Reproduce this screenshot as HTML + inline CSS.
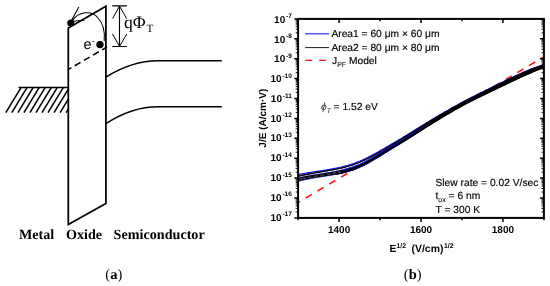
<!DOCTYPE html>
<html><head><meta charset="utf-8"><title>Figure</title>
<style>
html,body{margin:0;padding:0;background:#fff;}
svg{display:block;}
text{text-rendering:geometricPrecision;font-family:"Liberation Sans",Arial,sans-serif;fill:#000;}
.b{font-weight:bold;font-size:10px;}
.r{font-size:10.25px;stroke:#000;stroke-width:0.15px;}
.s{font-family:"Liberation Serif","Times New Roman",serif;}
</style></head><body>
<svg width="550" height="286" viewBox="0 0 550 286">
<rect width="550" height="286" fill="#fff"/>
<!-- (a) band diagram -->
<g fill="none" stroke="#000" stroke-width="1.75" stroke-linejoin="miter">
<path d="M68.3,28 L105.9,6.3 L105.9,203.6 L68.3,224.5 Z"/>
<path d="M106.9,47.0 L68.5,69.4" stroke-dasharray="6.7 3.85" stroke-dashoffset="1.14" stroke-width="1.5"/>
<path d="M18.5,87.6 H68.5" stroke-width="1.5"/>
<path d="M105.9,77.1 Q131.9,60.7 158,60.7 H221.8" stroke-width="1.5"/>
<path d="M105.9,123.7 Q131.9,106.8 158,106.8 H221.8" stroke-width="1.5"/>
<path d="M112.2,5.9 H126.8 M112.2,46.5 H126.8 M119.5,5.9 V46.5" stroke-width="1.1"/>
<path d="M112.6,18.5 L119.5,6.2 L126.6,18.5 M112.4,34 L119.5,46.3 L126.8,34" stroke-width="1"/>
<path d="M72,21.5 C78,11 92,10 98,18 C103.5,24 105,33 104.2,41" stroke-width="1.05"/>
<path d="M78.8,7 L71,21.5 L84.3,20.2" stroke-width="1.05"/>
</g>
<path d="M21.0,87.7L5.8,112.6 M27.0,87.7L11.8,112.6 M33.1,87.7L17.9,112.6 M39.1,87.7L23.9,112.6 M45.1,87.7L29.9,112.6 M51.2,87.7L36.0,112.6 M57.2,87.7L42.0,112.6 M63.2,87.7L48.0,112.6 M68.5,88.9L54.0,112.6 M68.5,98.8L60.1,112.6 M68.5,108.7L66.1,112.6" stroke="#000" stroke-width="1.55" fill="none"/>
<circle cx="70.8" cy="23" r="3.6" fill="#000"/>
<circle cx="100" cy="44.6" r="3.7" fill="#000"/>
<text x="83.6" y="49.2" font-size="14.5">e<tspan dy="-5.5" font-size="9">-</tspan></text>
<text class="s" x="124" y="28.2" font-size="17.6">qΦ<tspan dy="4" dx="0.8" font-size="11.2">T</tspan></text>
<text class="s" x="19" y="239.4" font-size="14.1" font-weight="bold">Metal</text>
<text class="s" x="66" y="239.4" font-size="14.1" font-weight="bold">Oxide</text>
<text class="s" x="113.6" y="239.4" font-size="14.15" font-weight="bold">Semiconductor</text>
<text class="s" x="105.3" y="279.2" font-size="14.5">(<tspan font-weight="bold">a</tspan>)</text>
<text class="s" x="403.8" y="279.2" font-size="14.5">(<tspan font-weight="bold">b</tspan>)</text>
<!-- (b) plot -->
<path d="M298.5,202.3 L543.5,57.1" stroke="#ff1414" stroke-width="1.6" stroke-dasharray="7.1 6.56" stroke-dashoffset="5.2" fill="none"/>
<path d="M298.5,174.52 L299.4,174.33 L300.4,174.14 L301.3,173.96 L302.3,173.78 L303.2,173.61 L304.2,173.44 L305.1,173.27 L306.1,173.11 L307.0,172.95 L308.0,172.79 L308.9,172.64 L309.9,172.48 L310.8,172.33 L311.7,172.18 L312.7,172.03 L313.6,171.89 L314.6,171.74 L315.5,171.60 L316.5,171.45 L317.4,171.31 L318.4,171.16 L319.3,171.02 L320.3,170.87 L321.2,170.73 L322.1,170.58 L323.1,170.43 L324.0,170.28 L325.0,170.13 L325.9,169.98 L326.9,169.82 L327.8,169.66 L328.8,169.50 L329.7,169.34 L330.7,169.17 L331.6,169.00 L332.6,168.82 L333.5,168.65 L334.4,168.46 L335.4,168.27 L336.3,168.08 L337.3,167.89 L338.2,167.68 L339.2,167.47 L340.1,167.26 L341.1,167.04 L342.0,166.82 L343.0,166.58 L343.9,166.34 L344.9,166.10 L345.8,165.85 L346.7,165.58 L347.7,165.32 L348.6,165.04 L349.6,164.76 L350.5,164.46 L351.5,164.16 L352.4,163.85 L353.4,163.53 L354.3,163.20 L355.3,162.86 L356.2,162.51 L357.1,162.15 L358.1,161.79 L359.0,161.41 L360.0,161.01 L360.9,160.61 L361.9,160.20 L362.8,159.78 L363.8,159.35 L364.7,158.90 L365.7,158.45 L366.6,158.00 L367.6,157.53 L368.5,157.05 L369.4,156.57 L370.4,156.08 L371.3,155.59 L372.3,155.09 L373.2,154.58 L374.2,154.06 L375.1,153.55 L376.1,153.02 L377.0,152.50 L378.0,151.96 L378.9,151.43 L379.9,150.89 L380.8,150.35 L381.7,149.81 L382.7,149.26 L383.6,148.72 L384.6,148.17 L385.5,147.62 L386.5,147.07 L387.4,146.52 L388.4,145.97 L389.3,145.42 L390.3,144.87 L391.2,144.33 L392.1,143.77 L393.1,143.22 L394.0,142.67 L395.0,142.12 L395.9,141.57 L396.9,141.01 L397.8,140.45 L398.8,139.90 L399.7,139.34 L400.7,138.78 L401.6,138.21 L402.6,137.65 L403.5,137.08 L404.4,136.51 L405.4,135.94 L406.3,135.36 L407.3,134.78 L408.2,134.20 L409.2,133.62 L410.1,133.04 L411.1,132.45 L412.0,131.87 L413.0,131.28 L413.9,130.69 L414.9,130.11 L415.8,129.52 L416.7,128.93 L417.7,128.34 L418.6,127.75 L419.6,127.16 L420.5,126.58 L421.5,125.99 L422.4,125.41 L423.4,124.82 L424.3,124.24 L425.3,123.66 L426.2,123.08 L427.1,122.50 L428.1,121.93 L429.0,121.35 L430.0,120.78 L430.9,120.21 L431.9,119.64 L432.8,119.07 L433.8,118.50 L434.7,117.94 L435.7,117.37 L436.6,116.81 L437.6,116.25 L438.5,115.69 L439.4,115.14 L440.4,114.58 L441.3,114.03 L442.3,113.48 L443.2,112.93 L444.2,112.38 L445.1,111.83 L446.1,111.29 L447.0,110.75 L448.0,110.21 L448.9,109.67 L449.9,109.13 L450.8,108.60 L451.7,108.06 L452.7,107.53 L453.6,107.01 L454.6,106.48 L455.5,105.96 L456.5,105.43 L457.4,104.91 L458.4,104.40 L459.3,103.88 L460.3,103.37 L461.2,102.86 L462.1,102.35 L463.1,101.84 L464.0,101.34 L465.0,100.84 L465.9,100.34 L466.9,99.84 L467.8,99.35 L468.8,98.85 L469.7,98.36 L470.7,97.88 L471.6,97.39 L472.6,96.91 L473.5,96.43 L474.4,95.95 L475.4,95.48 L476.3,95.00 L477.3,94.53 L478.2,94.06 L479.2,93.59 L480.1,93.12 L481.1,92.66 L482.0,92.19 L483.0,91.73 L483.9,91.26 L484.9,90.80 L485.8,90.33 L486.7,89.87 L487.7,89.41 L488.6,88.94 L489.6,88.48 L490.5,88.02 L491.5,87.55 L492.4,87.08 L493.4,86.62 L494.3,86.15 L495.3,85.68 L496.2,85.21 L497.1,84.75 L498.1,84.28 L499.0,83.81 L500.0,83.34 L500.9,82.87 L501.9,82.40 L502.8,81.94 L503.8,81.47 L504.7,81.01 L505.7,80.54 L506.6,80.08 L507.6,79.62 L508.5,79.16 L509.4,78.71 L510.4,78.25 L511.3,77.80 L512.3,77.35 L513.2,76.90 L514.2,76.45 L515.1,76.01 L516.1,75.57 L517.0,75.13 L518.0,74.70 L518.9,74.27 L519.9,73.84 L520.8,73.42 L521.7,73.00 L522.7,72.58 L523.6,72.17 L524.6,71.76 L525.5,71.36 L526.5,70.96 L527.4,70.57 L528.4,70.18 L529.3,69.80 L530.3,69.42 L531.2,69.05 L532.1,68.68 L533.1,68.32 L534.0,67.96 L535.0,67.62 L535.9,67.27 L536.9,66.94 L537.8,66.60 L538.8,66.28 L539.7,65.96 L540.7,65.65 L541.6,65.35 L542.6,65.06 L543.5,64.77" fill="none" stroke="#1414ff" stroke-width="1.2"/>
<path d="M298.5,181.36 L299.4,181.09 L300.4,180.83 L301.3,180.59 L302.3,180.35 L303.2,180.11 L304.2,179.89 L305.1,179.67 L306.1,179.47 L307.0,179.26 L308.0,179.07 L308.9,178.88 L309.9,178.69 L310.8,178.51 L311.7,178.34 L312.7,178.17 L313.6,178.00 L314.6,177.84 L315.5,177.68 L316.5,177.53 L317.4,177.38 L318.4,177.23 L319.3,177.08 L320.3,176.93 L321.2,176.79 L322.1,176.64 L323.1,176.50 L324.0,176.35 L325.0,176.21 L325.9,176.06 L326.9,175.91 L327.8,175.77 L328.8,175.62 L329.7,175.46 L330.7,175.31 L331.6,175.15 L332.6,174.98 L333.5,174.81 L334.4,174.64 L335.4,174.46 L336.3,174.27 L337.3,174.08 L338.2,173.87 L339.2,173.67 L340.1,173.45 L341.1,173.22 L342.0,172.99 L343.0,172.75 L343.9,172.50 L344.9,172.24 L345.8,171.97 L346.7,171.69 L347.7,171.41 L348.6,171.11 L349.6,170.80 L350.5,170.48 L351.5,170.14 L352.4,169.80 L353.4,169.44 L354.3,169.08 L355.3,168.69 L356.2,168.30 L357.1,167.89 L358.1,167.47 L359.0,167.04 L360.0,166.59 L360.9,166.13 L361.9,165.66 L362.8,165.17 L363.8,164.68 L364.7,164.17 L365.7,163.65 L366.6,163.12 L367.6,162.58 L368.5,162.03 L369.4,161.48 L370.4,160.92 L371.3,160.35 L372.3,159.78 L373.2,159.20 L374.2,158.61 L375.1,158.02 L376.1,157.43 L377.0,156.84 L378.0,156.24 L378.9,155.64 L379.9,155.04 L380.8,154.44 L381.7,153.84 L382.7,153.24 L383.6,152.63 L384.6,152.04 L385.5,151.44 L386.5,150.84 L387.4,150.25 L388.4,149.66 L389.3,149.08 L390.3,148.49 L391.2,147.91 L392.1,147.34 L393.1,146.76 L394.0,146.18 L395.0,145.61 L395.9,145.04 L396.9,144.47 L397.8,143.90 L398.8,143.33 L399.7,142.76 L400.7,142.18 L401.6,141.61 L402.6,141.04 L403.5,140.46 L404.4,139.88 L405.4,139.30 L406.3,138.72 L407.3,138.13 L408.2,137.54 L409.2,136.95 L410.1,136.35 L411.1,135.76 L412.0,135.16 L413.0,134.56 L413.9,133.97 L414.9,133.37 L415.8,132.77 L416.7,132.17 L417.7,131.56 L418.6,130.96 L419.6,130.36 L420.5,129.76 L421.5,129.17 L422.4,128.57 L423.4,127.97 L424.3,127.38 L425.3,126.78 L426.2,126.19 L427.1,125.60 L428.1,125.00 L429.0,124.42 L430.0,123.83 L430.9,123.24 L431.9,122.66 L432.8,122.07 L433.8,121.49 L434.7,120.91 L435.7,120.33 L436.6,119.76 L437.6,119.18 L438.5,118.61 L439.4,118.04 L440.4,117.47 L441.3,116.90 L442.3,116.33 L443.2,115.77 L444.2,115.21 L445.1,114.65 L446.1,114.09 L447.0,113.54 L448.0,112.98 L448.9,112.43 L449.9,111.88 L450.8,111.34 L451.7,110.80 L452.7,110.25 L453.6,109.72 L454.6,109.18 L455.5,108.65 L456.5,108.11 L457.4,107.59 L458.4,107.06 L459.3,106.54 L460.3,106.02 L461.2,105.50 L462.1,104.98 L463.1,104.47 L464.0,103.96 L465.0,103.46 L465.9,102.96 L466.9,102.46 L467.8,101.96 L468.8,101.47 L469.7,100.98 L470.7,100.49 L471.6,100.00 L472.6,99.52 L473.5,99.05 L474.4,98.57 L475.4,98.10 L476.3,97.63 L477.3,97.17 L478.2,96.70 L479.2,96.24 L480.1,95.78 L481.1,95.32 L482.0,94.86 L483.0,94.40 L483.9,93.95 L484.9,93.49 L485.8,93.04 L486.7,92.59 L487.7,92.13 L488.6,91.68 L489.6,91.22 L490.5,90.77 L491.5,90.31 L492.4,89.86 L493.4,89.40 L494.3,88.95 L495.3,88.49 L496.2,88.03 L497.1,87.57 L498.1,87.11 L499.0,86.65 L500.0,86.19 L500.9,85.73 L501.9,85.28 L502.8,84.82 L503.8,84.36 L504.7,83.90 L505.7,83.44 L506.6,82.99 L507.6,82.53 L508.5,82.08 L509.4,81.62 L510.4,81.17 L511.3,80.72 L512.3,80.27 L513.2,79.82 L514.2,79.37 L515.1,78.93 L516.1,78.48 L517.0,78.04 L518.0,77.60 L518.9,77.17 L519.9,76.73 L520.8,76.30 L521.7,75.87 L522.7,75.44 L523.6,75.01 L524.6,74.59 L525.5,74.17 L526.5,73.76 L527.4,73.34 L528.4,72.93 L529.3,72.52 L530.3,72.12 L531.2,71.72 L532.1,71.33 L533.1,70.93 L534.0,70.54 L535.0,70.16 L535.9,69.78 L536.9,69.40 L537.8,69.03 L538.8,68.66 L539.7,68.30 L540.7,67.94 L541.6,67.59 L542.6,67.24 L543.5,66.90" fill="none" stroke="#1414ff" stroke-width="0.95"/>
<path d="M298.5,177.94 L299.4,177.71 L300.4,177.49 L301.3,177.27 L302.3,177.06 L303.2,176.86 L304.2,176.66 L305.1,176.47 L306.1,176.29 L307.0,176.11 L308.0,175.93 L308.9,175.76 L309.9,175.59 L310.8,175.42 L311.7,175.26 L312.7,175.10 L313.6,174.95 L314.6,174.79 L315.5,174.64 L316.5,174.49 L317.4,174.34 L318.4,174.20 L319.3,174.05 L320.3,173.90 L321.2,173.76 L322.1,173.61 L323.1,173.46 L324.0,173.32 L325.0,173.17 L325.9,173.02 L326.9,172.87 L327.8,172.71 L328.8,172.56 L329.7,172.40 L330.7,172.24 L331.6,172.08 L332.6,171.91 L333.5,171.74 L334.4,171.56 L335.4,171.38 L336.3,171.19 L337.3,171.00 L338.2,170.81 L339.2,170.61 L340.1,170.40 L341.1,170.19 L342.0,169.97 L343.0,169.74 L343.9,169.50 L344.9,169.26 L345.8,169.01 L346.7,168.75 L347.7,168.49 L348.6,168.21 L349.6,167.93 L350.5,167.63 L351.5,167.33 L352.4,167.02 L353.4,166.69 L354.3,166.36 L355.3,166.01 L356.2,165.66 L357.1,165.29 L358.1,164.91 L359.0,164.51 L360.0,164.11 L360.9,163.69 L361.9,163.26 L362.8,162.82 L363.8,162.37 L364.7,161.91 L365.7,161.43 L366.6,160.95 L367.6,160.46 L368.5,159.96 L369.4,159.45 L370.4,158.94 L371.3,158.42 L372.3,157.89 L373.2,157.35 L374.2,156.81 L375.1,156.27 L376.1,155.72 L377.0,155.17 L378.0,154.61 L378.9,154.05 L379.9,153.48 L380.8,152.92 L381.7,152.35 L382.7,151.78 L383.6,151.21 L384.6,150.64 L385.5,150.08 L386.5,149.51 L387.4,148.94 L388.4,148.37 L389.3,147.81 L390.3,147.25 L391.2,146.68 L392.1,146.12 L393.1,145.56 L394.0,145.00 L395.0,144.44 L395.9,143.87 L396.9,143.31 L397.8,142.75 L398.8,142.18 L399.7,141.62 L400.7,141.05 L401.6,140.48 L402.6,139.91 L403.5,139.33 L404.4,138.76 L405.4,138.18 L406.3,137.60 L407.3,137.01 L408.2,136.43 L409.2,135.84 L410.1,135.25 L411.1,134.66 L412.0,134.06 L413.0,133.47 L413.9,132.88 L414.9,132.28 L415.8,131.68 L416.7,131.09 L417.7,130.49 L418.6,129.89 L419.6,129.30 L420.5,128.70 L421.5,128.11 L422.4,127.51 L423.4,126.92 L424.3,126.33 L425.3,125.74 L426.2,125.15 L427.1,124.57 L428.1,123.98 L429.0,123.39 L430.0,122.81 L430.9,122.23 L431.9,121.65 L432.8,121.07 L433.8,120.50 L434.7,119.92 L435.7,119.35 L436.6,118.77 L437.6,118.20 L438.5,117.64 L439.4,117.07 L440.4,116.50 L441.3,115.94 L442.3,115.38 L443.2,114.82 L444.2,114.27 L445.1,113.71 L446.1,113.16 L447.0,112.61 L448.0,112.06 L448.9,111.51 L449.9,110.97 L450.8,110.42 L451.7,109.88 L452.7,109.35 L453.6,108.81 L454.6,108.28 L455.5,107.75 L456.5,107.22 L457.4,106.69 L458.4,106.17 L459.3,105.65 L460.3,105.13 L461.2,104.62 L462.1,104.11 L463.1,103.60 L464.0,103.09 L465.0,102.58 L465.9,102.08 L466.9,101.58 L467.8,101.09 L468.8,100.59 L469.7,100.10 L470.7,99.62 L471.6,99.13 L472.6,98.65 L473.5,98.17 L474.4,97.70 L475.4,97.23 L476.3,96.76 L477.3,96.29 L478.2,95.82 L479.2,95.36 L480.1,94.89 L481.1,94.43 L482.0,93.97 L483.0,93.51 L483.9,93.05 L484.9,92.59 L485.8,92.14 L486.7,91.68 L487.7,91.22 L488.6,90.77 L489.6,90.31 L490.5,89.85 L491.5,89.39 L492.4,88.93 L493.4,88.47 L494.3,88.01 L495.3,87.55 L496.2,87.09 L497.1,86.63 L498.1,86.17 L499.0,85.70 L500.0,85.24 L500.9,84.78 L501.9,84.32 L502.8,83.86 L503.8,83.40 L504.7,82.94 L505.7,82.48 L506.6,82.02 L507.6,81.56 L508.5,81.11 L509.4,80.65 L510.4,80.20 L511.3,79.74 L512.3,79.29 L513.2,78.85 L514.2,78.40 L515.1,77.95 L516.1,77.51 L517.0,77.07 L518.0,76.63 L518.9,76.20 L519.9,75.77 L520.8,75.34 L521.7,74.91 L522.7,74.49 L523.6,74.07 L524.6,73.65 L525.5,73.23 L526.5,72.82 L527.4,72.42 L528.4,72.01 L529.3,71.62 L530.3,71.22 L531.2,70.83 L532.1,70.44 L533.1,70.06 L534.0,69.68 L535.0,69.31 L535.9,68.94 L536.9,68.58 L537.8,68.22 L538.8,67.87 L539.7,67.52 L540.7,67.18 L541.6,66.84 L542.6,66.51 L543.5,66.19" fill="none" stroke="#1414ff" stroke-width="0.9"/>
<path d="M298.5,176.36 L299.4,176.15 L300.4,175.94 L301.3,175.74 L302.3,175.53 L303.2,175.33 L304.2,175.13 L305.1,174.94 L306.1,174.74 L307.0,174.55 L308.0,174.36 L308.9,174.17 L309.9,173.98 L310.8,173.80 L311.7,173.62 L312.7,173.44 L313.6,173.26 L314.6,173.08 L315.5,172.91 L316.5,172.73 L317.4,172.56 L318.4,172.39 L319.3,172.22 L320.3,172.05 L321.2,171.88 L322.1,171.71 L323.1,171.54 L324.0,171.37 L325.0,171.21 L325.9,171.04 L326.9,170.87 L327.8,170.71 L328.8,170.54 L329.7,170.38 L330.7,170.21 L331.6,170.04 L332.6,169.87 L333.5,169.70 L334.4,169.52 L335.4,169.33 L336.3,169.14 L337.3,168.95 L338.2,168.75 L339.2,168.54 L340.1,168.33 L341.1,168.11 L342.0,167.89 L343.0,167.66 L343.9,167.42 L344.9,167.17 L345.8,166.92 L346.7,166.66 L347.7,166.39 L348.6,166.12 L349.6,165.83 L350.5,165.54 L351.5,165.24 L352.4,164.93 L353.4,164.61 L354.3,164.27 L355.3,163.93 L356.2,163.58 L357.1,163.22 L358.1,162.85 L359.0,162.46 L360.0,162.07 L360.9,161.66 L361.9,161.24 L362.8,160.81 L363.8,160.37 L364.7,159.92 L365.7,159.47 L366.6,159.00 L367.6,158.53 L368.5,158.04 L369.4,157.55 L370.4,157.05 L371.3,156.55 L372.3,156.04 L373.2,155.52 L374.2,154.99 L375.1,154.46 L376.1,153.92 L377.0,153.38 L378.0,152.84 L378.9,152.29 L379.9,151.74 L380.8,151.18 L381.7,150.62 L382.7,150.06 L383.6,149.50 L384.6,148.94 L385.5,148.37 L386.5,147.81 L387.4,147.25 L388.4,146.68 L389.3,146.12 L390.3,145.56 L391.2,144.99 L392.1,144.43 L393.1,143.86 L394.0,143.30 L395.0,142.73 L395.9,142.17 L396.9,141.60 L397.8,141.03 L398.8,140.46 L399.7,139.89 L400.7,139.31 L401.6,138.74 L402.6,138.16 L403.5,137.58 L404.4,137.00 L405.4,136.41 L406.3,135.83 L407.3,135.24 L408.2,134.65 L409.2,134.06 L410.1,133.46 L411.1,132.87 L412.0,132.27 L413.0,131.67 L413.9,131.08 L414.9,130.48 L415.8,129.88 L416.7,129.28 L417.7,128.69 L418.6,128.09 L419.6,127.50 L420.5,126.90 L421.5,126.31 L422.4,125.72 L423.4,125.13 L424.3,124.54 L425.3,123.96 L426.2,123.38 L427.1,122.80 L428.1,122.22 L429.0,121.64 L430.0,121.06 L430.9,120.49 L431.9,119.92 L432.8,119.35 L433.8,118.78 L434.7,118.22 L435.7,117.65 L436.6,117.09 L437.6,116.52 L438.5,115.96 L439.4,115.41 L440.4,114.85 L441.3,114.30 L442.3,113.74 L443.2,113.19 L444.2,112.64 L445.1,112.09 L446.1,111.55 L447.0,111.01 L448.0,110.46 L448.9,109.93 L449.9,109.39 L450.8,108.85 L451.7,108.32 L452.7,107.79 L453.6,107.26 L454.6,106.73 L455.5,106.21 L456.5,105.68 L457.4,105.16 L458.4,104.64 L459.3,104.13 L460.3,103.61 L461.2,103.10 L462.1,102.59 L463.1,102.09 L464.0,101.58 L465.0,101.08 L465.9,100.58 L466.9,100.08 L467.8,99.59 L468.8,99.10 L469.7,98.61 L470.7,98.12 L471.6,97.64 L472.6,97.15 L473.5,96.67 L474.4,96.20 L475.4,95.72 L476.3,95.25 L477.3,94.78 L478.2,94.31 L479.2,93.84 L480.1,93.37 L481.1,92.91 L482.0,92.44 L483.0,91.98 L483.9,91.51 L484.9,91.05 L485.8,90.59 L486.7,90.12 L487.7,89.66 L488.6,89.20 L489.6,88.74 L490.5,88.27 L491.5,87.81 L492.4,87.34 L493.4,86.88 L494.3,86.41 L495.3,85.94 L496.2,85.48 L497.1,85.01 L498.1,84.54 L499.0,84.07 L500.0,83.61 L500.9,83.14 L501.9,82.67 L502.8,82.21 L503.8,81.74 L504.7,81.28 L505.7,80.82 L506.6,80.35 L507.6,79.89 L508.5,79.43 L509.4,78.98 L510.4,78.52 L511.3,78.07 L512.3,77.62 L513.2,77.17 L514.2,76.72 L515.1,76.28 L516.1,75.84 L517.0,75.40 L518.0,74.97 L518.9,74.54 L519.9,74.11 L520.8,73.69 L521.7,73.27 L522.7,72.85 L523.6,72.44 L524.6,72.03 L525.5,71.62 L526.5,71.22 L527.4,70.83 L528.4,70.44 L529.3,70.05 L530.3,69.67 L531.2,69.30 L532.1,68.93 L533.1,68.56 L534.0,68.21 L535.0,67.85 L535.9,67.51 L536.9,67.17 L537.8,66.83 L538.8,66.50 L539.7,66.18 L540.7,65.87 L541.6,65.56 L542.6,65.26 L543.5,64.97" fill="none" stroke="#000" stroke-width="1.1"/>
<path d="M298.5,175.68 L299.4,175.48 L300.4,175.28 L301.3,175.08 L302.3,174.90 L303.2,174.71 L304.2,174.53 L305.1,174.36 L306.1,174.19 L307.0,174.02 L308.0,173.86 L308.9,173.70 L309.9,173.54 L310.8,173.38 L311.7,173.23 L312.7,173.08 L313.6,172.93 L314.6,172.78 L315.5,172.63 L316.5,172.49 L317.4,172.34 L318.4,172.19 L319.3,172.05 L320.3,171.90 L321.2,171.76 L322.1,171.61 L323.1,171.46 L324.0,171.31 L325.0,171.16 L325.9,171.01 L326.9,170.86 L327.8,170.70 L328.8,170.54 L329.7,170.38 L330.7,170.21 L331.6,170.04 L332.6,169.87 L333.5,169.70 L334.4,169.52 L335.4,169.33 L336.3,169.14 L337.3,168.95 L338.2,168.75 L339.2,168.54 L340.1,168.33 L341.1,168.11 L342.0,167.89 L343.0,167.66 L343.9,167.42 L344.9,167.17 L345.8,166.92 L346.7,166.66 L347.7,166.39 L348.6,166.12 L349.6,165.83 L350.5,165.54 L351.5,165.24 L352.4,164.93 L353.4,164.61 L354.3,164.27 L355.3,163.93 L356.2,163.59 L357.1,163.23 L358.1,162.87 L359.0,162.51 L360.0,162.13 L360.9,161.75 L361.9,161.36 L362.8,160.96 L363.8,160.55 L364.7,160.14 L365.7,159.72 L366.6,159.29 L367.6,158.85 L368.5,158.41 L369.4,157.96 L370.4,157.50 L371.3,157.03 L372.3,156.56 L373.2,156.08 L374.2,155.60 L375.1,155.10 L376.1,154.61 L377.0,154.10 L378.0,153.59 L378.9,153.08 L379.9,152.56 L380.8,152.03 L381.7,151.50 L382.7,150.97 L383.6,150.43 L384.6,149.89 L385.5,149.35 L386.5,148.80 L387.4,148.25 L388.4,147.70 L389.3,147.14 L390.3,146.58 L391.2,146.02 L392.1,145.46 L393.1,144.91 L394.0,144.35 L395.0,143.79 L395.9,143.23 L396.9,142.67 L397.8,142.11 L398.8,141.54 L399.7,140.98 L400.7,140.41 L401.6,139.84 L402.6,139.27 L403.5,138.70 L404.4,138.13 L405.4,137.55 L406.3,136.97 L407.3,136.39 L408.2,135.80 L409.2,135.22 L410.1,134.63 L411.1,134.04 L412.0,133.45 L413.0,132.86 L413.9,132.26 L414.9,131.67 L415.8,131.08 L416.7,130.48 L417.7,129.89 L418.6,129.29 L419.6,128.70 L420.5,128.11 L421.5,127.52 L422.4,126.92 L423.4,126.33 L424.3,125.75 L425.3,125.16 L426.2,124.57 L427.1,123.99 L428.1,123.40 L429.0,122.82 L430.0,122.24 L430.9,121.66 L431.9,121.09 L432.8,120.51 L433.8,119.94 L434.7,119.36 L435.7,118.79 L436.6,118.23 L437.6,117.66 L438.5,117.09 L439.4,116.53 L440.4,115.97 L441.3,115.41 L442.3,114.85 L443.2,114.29 L444.2,113.74 L445.1,113.18 L446.1,112.63 L447.0,112.09 L448.0,111.54 L448.9,110.99 L449.9,110.45 L450.8,109.91 L451.7,109.37 L452.7,108.84 L453.6,108.31 L454.6,107.78 L455.5,107.25 L456.5,106.72 L457.4,106.20 L458.4,105.67 L459.3,105.16 L460.3,104.64 L461.2,104.12 L462.1,103.61 L463.1,103.10 L464.0,102.60 L465.0,102.09 L465.9,101.59 L466.9,101.10 L467.8,100.60 L468.8,100.11 L469.7,99.62 L470.7,99.13 L471.6,98.65 L472.6,98.16 L473.5,97.69 L474.4,97.21 L475.4,96.74 L476.3,96.26 L477.3,95.80 L478.2,95.33 L479.2,94.86 L480.1,94.40 L481.1,93.93 L482.0,93.47 L483.0,93.01 L483.9,92.55 L484.9,92.09 L485.8,91.63 L486.7,91.17 L487.7,90.72 L488.6,90.26 L489.6,89.80 L490.5,89.34 L491.5,88.88 L492.4,88.42 L493.4,87.95 L494.3,87.49 L495.3,87.03 L496.2,86.57 L497.1,86.10 L498.1,85.64 L499.0,85.17 L500.0,84.71 L500.9,84.25 L501.9,83.78 L502.8,83.32 L503.8,82.86 L504.7,82.40 L505.7,81.94 L506.6,81.48 L507.6,81.02 L508.5,80.56 L509.4,80.11 L510.4,79.65 L511.3,79.20 L512.3,78.75 L513.2,78.30 L514.2,77.85 L515.1,77.41 L516.1,76.97 L517.0,76.53 L518.0,76.09 L518.9,75.66 L519.9,75.23 L520.8,74.80 L521.7,74.37 L522.7,73.95 L523.6,73.54 L524.6,73.12 L525.5,72.71 L526.5,72.30 L527.4,71.90 L528.4,71.50 L529.3,71.11 L530.3,70.72 L531.2,70.33 L532.1,69.95 L533.1,69.57 L534.0,69.20 L535.0,68.84 L535.9,68.48 L536.9,68.12 L537.8,67.77 L538.8,67.42 L539.7,67.09 L540.7,66.75 L541.6,66.43 L542.6,66.10 L543.5,65.79" fill="none" stroke="#000" stroke-width="1.0"/>
<path d="M298.5,178.42 L299.4,178.18 L300.4,177.96 L301.3,177.74 L302.3,177.52 L303.2,177.32 L304.2,177.12 L305.1,176.92 L306.1,176.73 L307.0,176.55 L308.0,176.37 L308.9,176.19 L309.9,176.02 L310.8,175.86 L311.7,175.69 L312.7,175.53 L313.6,175.37 L314.6,175.22 L315.5,175.07 L316.5,174.92 L317.4,174.77 L318.4,174.62 L319.3,174.47 L320.3,174.33 L321.2,174.18 L322.1,174.03 L323.1,173.89 L324.0,173.74 L325.0,173.59 L325.9,173.44 L326.9,173.29 L327.8,173.14 L328.8,172.99 L329.7,172.83 L330.7,172.67 L331.6,172.51 L332.6,172.34 L333.5,172.17 L334.4,171.99 L335.4,171.82 L336.3,171.63 L337.3,171.44 L338.2,171.25 L339.2,171.05 L340.1,170.85 L341.1,170.63 L342.0,170.42 L343.0,170.19 L343.9,169.96 L344.9,169.72 L345.8,169.47 L346.7,169.22 L347.7,168.95 L348.6,168.68 L349.6,168.39 L350.5,168.10 L351.5,167.80 L352.4,167.49 L353.4,167.17 L354.3,166.83 L355.3,166.49 L356.2,166.13 L357.1,165.77 L358.1,165.39 L359.0,164.99 L360.0,164.59 L360.9,164.17 L361.9,163.74 L362.8,163.30 L363.8,162.85 L364.7,162.39 L365.7,161.91 L366.6,161.43 L367.6,160.94 L368.5,160.44 L369.4,159.93 L370.4,159.41 L371.3,158.89 L372.3,158.36 L373.2,157.82 L374.2,157.28 L375.1,156.73 L376.1,156.18 L377.0,155.62 L378.0,155.07 L378.9,154.50 L379.9,153.94 L380.8,153.37 L381.7,152.80 L382.7,152.23 L383.6,151.66 L384.6,151.09 L385.5,150.52 L386.5,149.95 L387.4,149.38 L388.4,148.81 L389.3,148.25 L390.3,147.68 L391.2,147.12 L392.1,146.56 L393.1,146.00 L394.0,145.43 L395.0,144.87 L395.9,144.31 L396.9,143.75 L397.8,143.18 L398.8,142.62 L399.7,142.05 L400.7,141.49 L401.6,140.92 L402.6,140.35 L403.5,139.77 L404.4,139.20 L405.4,138.62 L406.3,138.04 L407.3,137.45 L408.2,136.87 L409.2,136.28 L410.1,135.69 L411.1,135.09 L412.0,134.50 L413.0,133.91 L413.9,133.31 L414.9,132.71 L415.8,132.12 L416.7,131.52 L417.7,130.92 L418.6,130.32 L419.6,129.72 L420.5,129.13 L421.5,128.53 L422.4,127.94 L423.4,127.34 L424.3,126.75 L425.3,126.16 L426.2,125.57 L427.1,124.98 L428.1,124.39 L429.0,123.80 L430.0,123.22 L430.9,122.63 L431.9,122.05 L432.8,121.47 L433.8,120.89 L434.7,120.32 L435.7,119.74 L436.6,119.17 L437.6,118.60 L438.5,118.02 L439.4,117.46 L440.4,116.89 L441.3,116.32 L442.3,115.76 L443.2,115.20 L444.2,114.64 L445.1,114.09 L446.1,113.53 L447.0,112.98 L448.0,112.43 L448.9,111.88 L449.9,111.33 L450.8,110.79 L451.7,110.25 L452.7,109.71 L453.6,109.17 L454.6,108.64 L455.5,108.11 L456.5,107.58 L457.4,107.05 L458.4,106.53 L459.3,106.01 L460.3,105.49 L461.2,104.97 L462.1,104.46 L463.1,103.95 L464.0,103.44 L465.0,102.93 L465.9,102.43 L466.9,101.93 L467.8,101.44 L468.8,100.94 L469.7,100.45 L470.7,99.97 L471.6,99.48 L472.6,99.00 L473.5,98.52 L474.4,98.05 L475.4,97.58 L476.3,97.11 L477.3,96.64 L478.2,96.17 L479.2,95.71 L480.1,95.25 L481.1,94.79 L482.0,94.33 L483.0,93.87 L483.9,93.41 L484.9,92.95 L485.8,92.50 L486.7,92.04 L487.7,91.59 L488.6,91.13 L489.6,90.68 L490.5,90.22 L491.5,89.76 L492.4,89.30 L493.4,88.85 L494.3,88.39 L495.3,87.93 L496.2,87.47 L497.1,87.01 L498.1,86.55 L499.0,86.08 L500.0,85.62 L500.9,85.16 L501.9,84.70 L502.8,84.24 L503.8,83.78 L504.7,83.32 L505.7,82.86 L506.6,82.41 L507.6,81.95 L508.5,81.49 L509.4,81.04 L510.4,80.59 L511.3,80.13 L512.3,79.68 L513.2,79.24 L514.2,78.79 L515.1,78.34 L516.1,77.90 L517.0,77.46 L518.0,77.02 L518.9,76.59 L519.9,76.15 L520.8,75.72 L521.7,75.29 L522.7,74.87 L523.6,74.44 L524.6,74.03 L525.5,73.61 L526.5,73.20 L527.4,72.79 L528.4,72.38 L529.3,71.98 L530.3,71.58 L531.2,71.19 L532.1,70.80 L533.1,70.41 L534.0,70.03 L535.0,69.65 L535.9,69.28 L536.9,68.91 L537.8,68.55 L538.8,68.19 L539.7,67.83 L540.7,67.49 L541.6,67.14 L542.6,66.80 L543.5,66.47" fill="none" stroke="#000" stroke-width="1.1"/>
<path d="M298.5,179.44 L299.4,179.20 L300.4,178.96 L301.3,178.73 L302.3,178.51 L303.2,178.29 L304.2,178.08 L305.1,177.88 L306.1,177.69 L307.0,177.49 L308.0,177.31 L308.9,177.13 L309.9,176.95 L310.8,176.78 L311.7,176.62 L312.7,176.45 L313.6,176.29 L314.6,176.13 L315.5,175.98 L316.5,175.83 L317.4,175.68 L318.4,175.53 L319.3,175.38 L320.3,175.24 L321.2,175.09 L322.1,174.94 L323.1,174.80 L324.0,174.65 L325.0,174.51 L325.9,174.36 L326.9,174.21 L327.8,174.06 L328.8,173.90 L329.7,173.75 L330.7,173.59 L331.6,173.43 L332.6,173.26 L333.5,173.10 L334.4,172.93 L335.4,172.75 L336.3,172.57 L337.3,172.39 L338.2,172.20 L339.2,172.00 L340.1,171.80 L341.1,171.59 L342.0,171.38 L343.0,171.16 L343.9,170.93 L344.9,170.69 L345.8,170.45 L346.7,170.19 L347.7,169.93 L348.6,169.66 L349.6,169.39 L350.5,169.10 L351.5,168.80 L352.4,168.49 L353.4,168.17 L354.3,167.84 L355.3,167.49 L356.2,167.14 L357.1,166.77 L358.1,166.40 L359.0,166.00 L360.0,165.60 L360.9,165.18 L361.9,164.75 L362.8,164.31 L363.8,163.85 L364.7,163.39 L365.7,162.91 L366.6,162.42 L367.6,161.93 L368.5,161.42 L369.4,160.91 L370.4,160.39 L371.3,159.86 L372.3,159.33 L373.2,158.79 L374.2,158.24 L375.1,157.69 L376.1,157.13 L377.0,156.57 L378.0,156.00 L378.9,155.44 L379.9,154.86 L380.8,154.29 L381.7,153.72 L382.7,153.14 L383.6,152.57 L384.6,151.99 L385.5,151.42 L386.5,150.85 L387.4,150.28 L388.4,149.71 L389.3,149.14 L390.3,148.57 L391.2,148.01 L392.1,147.44 L393.1,146.88 L394.0,146.32 L395.0,145.76 L395.9,145.19 L396.9,144.63 L397.8,144.07 L398.8,143.50 L399.7,142.94 L400.7,142.37 L401.6,141.80 L402.6,141.23 L403.5,140.65 L404.4,140.08 L405.4,139.50 L406.3,138.92 L407.3,138.33 L408.2,137.74 L409.2,137.15 L410.1,136.56 L411.1,135.97 L412.0,135.37 L413.0,134.78 L413.9,134.18 L414.9,133.58 L415.8,132.98 L416.7,132.38 L417.7,131.78 L418.6,131.18 L419.6,130.58 L420.5,129.98 L421.5,129.38 L422.4,128.78 L423.4,128.18 L424.3,127.58 L425.3,126.99 L426.2,126.39 L427.1,125.80 L428.1,125.21 L429.0,124.62 L430.0,124.03 L430.9,123.44 L431.9,122.86 L432.8,122.27 L433.8,121.69 L434.7,121.11 L435.7,120.53 L436.6,119.95 L437.6,119.38 L438.5,118.80 L439.4,118.23 L440.4,117.66 L441.3,117.09 L442.3,116.52 L443.2,115.96 L444.2,115.40 L445.1,114.84 L446.1,114.28 L447.0,113.72 L448.0,113.17 L448.9,112.62 L449.9,112.07 L450.8,111.52 L451.7,110.98 L452.7,110.44 L453.6,109.90 L454.6,109.36 L455.5,108.82 L456.5,108.29 L457.4,107.76 L458.4,107.24 L459.3,106.71 L460.3,106.19 L461.2,105.68 L462.1,105.16 L463.1,104.65 L464.0,104.14 L465.0,103.63 L465.9,103.13 L466.9,102.63 L467.8,102.13 L468.8,101.64 L469.7,101.15 L470.7,100.66 L471.6,100.18 L472.6,99.70 L473.5,99.22 L474.4,98.75 L475.4,98.28 L476.3,97.81 L477.3,97.34 L478.2,96.88 L479.2,96.41 L480.1,95.95 L481.1,95.50 L482.0,95.04 L483.0,94.58 L483.9,94.13 L484.9,93.67 L485.8,93.22 L486.7,92.77 L487.7,92.31 L488.6,91.86 L489.6,91.41 L490.5,90.95 L491.5,90.50 L492.4,90.04 L493.4,89.59 L494.3,89.13 L495.3,88.68 L496.2,88.22 L497.1,87.76 L498.1,87.30 L499.0,86.84 L500.0,86.38 L500.9,85.93 L501.9,85.47 L502.8,85.01 L503.8,84.55 L504.7,84.09 L505.7,83.64 L506.6,83.18 L507.6,82.73 L508.5,82.27 L509.4,81.82 L510.4,81.36 L511.3,80.91 L512.3,80.46 L513.2,80.01 L514.2,79.57 L515.1,79.12 L516.1,78.68 L517.0,78.24 L518.0,77.80 L518.9,77.36 L519.9,76.92 L520.8,76.49 L521.7,76.06 L522.7,75.63 L523.6,75.20 L524.6,74.78 L525.5,74.36 L526.5,73.94 L527.4,73.53 L528.4,73.11 L529.3,72.71 L530.3,72.30 L531.2,71.90 L532.1,71.50 L533.1,71.11 L534.0,70.72 L535.0,70.33 L535.9,69.95 L536.9,69.57 L537.8,69.19 L538.8,68.82 L539.7,68.46 L540.7,68.10 L541.6,67.74 L542.6,67.39 L543.5,67.04" fill="none" stroke="#000" stroke-width="1.1"/>
<path d="M298.5,180.67 L299.4,180.41 L300.4,180.16 L301.3,179.92 L302.3,179.69 L303.2,179.46 L304.2,179.25 L305.1,179.03 L306.1,178.83 L307.0,178.63 L308.0,178.44 L308.9,178.25 L309.9,178.07 L310.8,177.90 L311.7,177.72 L312.7,177.56 L313.6,177.39 L314.6,177.23 L315.5,177.08 L316.5,176.92 L317.4,176.77 L318.4,176.62 L319.3,176.47 L320.3,176.33 L321.2,176.18 L322.1,176.04 L323.1,175.89 L324.0,175.75 L325.0,175.61 L325.9,175.46 L326.9,175.32 L327.8,175.17 L328.8,175.02 L329.7,174.88 L330.7,174.72 L331.6,174.57 L332.6,174.41 L333.5,174.25 L334.4,174.09 L335.4,173.92 L336.3,173.75 L337.3,173.57 L338.2,173.39 L339.2,173.20 L340.1,173.01 L341.1,172.81 L342.0,172.60 L343.0,172.39 L343.9,172.17 L344.9,171.94 L345.8,171.70 L346.7,171.45 L347.7,171.20 L348.6,170.94 L349.6,170.66 L350.5,170.38 L351.5,170.08 L352.4,169.78 L353.4,169.46 L354.3,169.13 L355.3,168.79 L356.2,168.44 L357.1,168.07 L358.1,167.69 L359.0,167.30 L360.0,166.89 L360.9,166.47 L361.9,166.04 L362.8,165.59 L363.8,165.13 L364.7,164.66 L365.7,164.18 L366.6,163.69 L367.6,163.18 L368.5,162.67 L369.4,162.15 L370.4,161.62 L371.3,161.08 L372.3,160.54 L373.2,159.99 L374.2,159.43 L375.1,158.87 L376.1,158.30 L377.0,157.73 L378.0,157.15 L378.9,156.57 L379.9,155.99 L380.8,155.41 L381.7,154.83 L382.7,154.24 L383.6,153.66 L384.6,153.07 L385.5,152.49 L386.5,151.91 L387.4,151.33 L388.4,150.75 L389.3,150.17 L390.3,149.60 L391.2,149.03 L392.1,148.46 L393.1,147.89 L394.0,147.32 L395.0,146.75 L395.9,146.18 L396.9,145.61 L397.8,145.04 L398.8,144.47 L399.7,143.89 L400.7,143.32 L401.6,142.74 L402.6,142.17 L403.5,141.59 L404.4,141.01 L405.4,140.42 L406.3,139.83 L407.3,139.24 L408.2,138.65 L409.2,138.06 L410.1,137.46 L411.1,136.86 L412.0,136.26 L413.0,135.66 L413.9,135.06 L414.9,134.45 L415.8,133.85 L416.7,133.24 L417.7,132.64 L418.6,132.04 L419.6,131.43 L420.5,130.83 L421.5,130.22 L422.4,129.62 L423.4,129.02 L424.3,128.42 L425.3,127.82 L426.2,127.22 L427.1,126.63 L428.1,126.03 L429.0,125.44 L430.0,124.84 L430.9,124.25 L431.9,123.66 L432.8,123.07 L433.8,122.49 L434.7,121.90 L435.7,121.32 L436.6,120.74 L437.6,120.16 L438.5,119.58 L439.4,119.00 L440.4,118.43 L441.3,117.86 L442.3,117.29 L443.2,116.72 L444.2,116.15 L445.1,115.59 L446.1,115.03 L447.0,114.47 L448.0,113.91 L448.9,113.36 L449.9,112.80 L450.8,112.25 L451.7,111.71 L452.7,111.16 L453.6,110.62 L454.6,110.08 L455.5,109.54 L456.5,109.01 L457.4,108.48 L458.4,107.95 L459.3,107.42 L460.3,106.90 L461.2,106.38 L462.1,105.86 L463.1,105.35 L464.0,104.84 L465.0,104.33 L465.9,103.83 L466.9,103.33 L467.8,102.83 L468.8,102.34 L469.7,101.85 L470.7,101.36 L471.6,100.88 L472.6,100.40 L473.5,99.92 L474.4,99.45 L475.4,98.98 L476.3,98.51 L477.3,98.04 L478.2,97.58 L479.2,97.12 L480.1,96.66 L481.1,96.21 L482.0,95.75 L483.0,95.30 L483.9,94.84 L484.9,94.39 L485.8,93.94 L486.7,93.49 L487.7,93.04 L488.6,92.59 L489.6,92.14 L490.5,91.69 L491.5,91.24 L492.4,90.78 L493.4,90.33 L494.3,89.88 L495.3,89.42 L496.2,88.97 L497.1,88.51 L498.1,88.06 L499.0,87.60 L500.0,87.15 L500.9,86.69 L501.9,86.23 L502.8,85.78 L503.8,85.32 L504.7,84.87 L505.7,84.41 L506.6,83.96 L507.6,83.50 L508.5,83.05 L509.4,82.59 L510.4,82.14 L511.3,81.69 L512.3,81.24 L513.2,80.79 L514.2,80.35 L515.1,79.90 L516.1,79.46 L517.0,79.01 L518.0,78.57 L518.9,78.13 L519.9,77.69 L520.8,77.26 L521.7,76.82 L522.7,76.39 L523.6,75.96 L524.6,75.53 L525.5,75.11 L526.5,74.69 L527.4,74.27 L528.4,73.85 L529.3,73.43 L530.3,73.02 L531.2,72.61 L532.1,72.21 L533.1,71.80 L534.0,71.40 L535.0,71.01 L535.9,70.62 L536.9,70.23 L537.8,69.84 L538.8,69.46 L539.7,69.08 L540.7,68.71 L541.6,68.34 L542.6,67.97 L543.5,67.61" fill="none" stroke="#000" stroke-width="1.15"/>
<path d="M335.4,174.33 L336.3,174.10 L337.3,173.82 L338.2,173.50 L339.2,173.14 L340.1,172.74 L341.1,172.32 L342.0,171.89 L343.0,171.43 L343.9,170.98 L344.9,170.53 L345.8,170.08 L346.7,169.66 L347.7,169.25 L348.6,168.88 L349.6,168.54 L350.5,168.24 L351.5,167.94 L352.4,167.63 L353.4,167.30 L354.3,166.97 L355.3,166.62 L356.2,166.26 L357.1,165.89 L358.1,165.51 L359.0,165.11 L360.0,164.70 L360.9,164.28 L361.9,163.85 L362.8,163.40 L363.8,162.94 L364.7,162.48 L365.7,162.00 L366.6,161.50 L367.6,160.99 L368.5,160.46 L369.4,159.91 L370.4,159.36 L371.3,158.79 L372.3,158.21 L373.2,157.62 L374.2,157.02 L375.1,156.41 L376.1,155.79 L377.0,155.17 L378.0,154.54 L378.9,153.91 L379.9,153.27 L380.8,152.63 L381.7,151.99 L382.7,151.34 L383.6,150.70 L384.6,150.05 L385.5,149.41 L386.5,148.76 L387.4,148.12 L388.4,147.48 L389.3,146.84 L390.3,146.21 L391.2,145.57 L392.1,144.94 L393.1,144.31 L394.0,143.68 L395.0,143.06 L395.9,142.43 L396.9,141.81 L397.8,141.19 L398.8,140.57 L399.7,139.96 L400.7,139.34 L401.6,138.73 L402.6,138.12 L403.5,137.51 L404.4,136.91 L405.4,136.30 L406.3,135.70 L407.3,135.10 L408.2,134.51 L409.2,133.92 L410.1,133.33 L411.1,132.75 L412.0,132.16 L413.0,131.57 L413.9,130.98 L414.9,130.39 L415.8,129.80 L416.7,129.21 L417.7,128.62 L418.6,128.03 L419.6,127.44 L420.5,126.85 L421.5,126.26 L422.4,125.68 L423.4,125.09 L424.3,124.51 L425.3,123.93 L426.2,123.35 L427.1,122.77 L428.1,122.19 L429.0,121.61 L430.0,121.04 L430.9,120.46 L431.9,119.89 L432.8,119.32 L433.8,118.75 L434.7,118.18 L435.7,117.62 L436.6,117.05 L437.6,116.49 L438.5,115.93 L439.4,115.37 L440.4,114.82 L441.3,114.26 L442.3,113.71 L443.2,113.16 L444.2,112.61 L445.1,112.06 L446.1,111.51 L447.0,110.97 L448.0,110.43 L448.9,109.89 L449.9,109.35 L450.8,108.81 L451.7,108.28 L452.7,107.75 L453.6,107.22 L454.6,106.69 L455.5,106.16 L456.5,105.64 L457.4,105.12 L458.4,104.60 L459.3,104.08 L460.3,103.57 L461.2,103.06 L462.1,102.55 L463.1,102.04 L464.0,101.54 L465.0,101.04 L465.9,100.54 L466.9,100.04 L467.8,99.54 L468.8,99.05 L469.7,98.56 L470.7,98.07 L471.6,97.59 L472.6,97.11 L473.5,96.63 L474.4,96.15 L475.4,95.68 L476.3,95.20 L477.3,94.73 L478.2,94.26 L479.2,93.79 L480.1,93.33 L481.1,92.86 L482.0,92.40 L483.0,91.93 L483.9,91.47 L484.9,91.01 L485.8,90.55 L486.7,90.08 L487.7,89.62 L488.6,89.16 L489.6,88.70 L490.5,88.23 L491.5,87.77 L492.4,87.30 L493.4,86.84 L494.3,86.37 L495.3,85.91 L496.2,85.44 L497.1,84.97 L498.1,84.50 L499.0,84.04 L500.0,83.57 L500.9,83.10 L501.9,82.64 L502.8,82.17 L503.8,81.71 L504.7,81.24 L505.7,80.78 L506.6,80.32 L507.6,79.86 L508.5,79.40 L509.4,78.94 L510.4,78.49 L511.3,78.04 L512.3,77.59 L513.2,77.14 L514.2,76.69 L515.1,76.25 L516.1,75.81 L517.0,75.37 L518.0,74.94 L518.9,74.50 L519.9,74.08 L520.8,73.65 L521.7,73.23 L522.7,72.81 L523.6,72.40 L524.6,71.99 L525.5,71.59 L526.5,71.19 L527.4,70.79 L528.4,70.40 L529.3,70.01 L530.3,69.63 L531.2,69.25 L532.1,68.88 L533.1,68.52 L534.0,68.16 L535.0,67.80 L535.9,67.46 L536.9,67.11 L537.8,66.78 L538.8,66.45 L539.7,66.13 L540.7,65.81 L541.6,65.50 L542.6,65.20 L543.5,64.90 L543.5,68.16 L542.6,68.52 L541.6,68.89 L540.7,69.26 L539.7,69.63 L538.8,70.01 L537.8,70.39 L536.9,70.78 L535.9,71.17 L535.0,71.56 L534.0,71.95 L533.1,72.35 L532.1,72.76 L531.2,73.16 L530.3,73.57 L529.3,73.98 L528.4,74.40 L527.4,74.82 L526.5,75.24 L525.5,75.66 L524.6,76.08 L523.6,76.51 L522.7,76.94 L521.7,77.37 L520.8,77.81 L519.9,78.24 L518.9,78.68 L518.0,79.12 L517.0,79.56 L516.1,80.01 L515.1,80.45 L514.2,80.90 L513.2,81.34 L512.3,81.79 L511.3,82.24 L510.4,82.69 L509.4,83.14 L508.5,83.60 L507.6,84.05 L506.6,84.51 L505.7,84.96 L504.7,85.42 L503.8,85.87 L502.8,86.33 L501.9,86.78 L500.9,87.24 L500.0,87.70 L499.0,88.15 L498.1,88.61 L497.1,89.06 L496.2,89.52 L495.3,89.97 L494.3,90.43 L493.4,90.88 L492.4,91.33 L491.5,91.79 L490.5,92.24 L489.6,92.69 L488.6,93.14 L487.7,93.59 L486.7,94.04 L485.8,94.49 L484.9,94.94 L483.9,95.39 L483.0,95.85 L482.0,96.30 L481.1,96.76 L480.1,97.21 L479.2,97.67 L478.2,98.13 L477.3,98.59 L476.3,99.06 L475.4,99.53 L474.4,100.00 L473.5,100.47 L472.6,100.95 L471.6,101.43 L470.7,101.91 L469.7,102.40 L468.8,102.89 L467.8,103.38 L466.9,103.88 L465.9,104.38 L465.0,104.88 L464.0,105.39 L463.1,105.90 L462.1,106.41 L461.2,106.93 L460.3,107.45 L459.3,107.97 L458.4,108.50 L457.4,109.03 L456.5,109.56 L455.5,110.09 L454.6,110.63 L453.6,111.17 L452.7,111.71 L451.7,112.26 L450.8,112.80 L449.9,113.35 L448.9,113.91 L448.0,114.46 L447.0,115.02 L446.1,115.58 L445.1,116.14 L444.2,116.70 L443.2,117.27 L442.3,117.84 L441.3,118.41 L440.4,118.98 L439.4,119.55 L438.5,120.13 L437.6,120.71 L436.6,121.29 L435.7,121.87 L434.7,122.45 L433.8,123.04 L432.8,123.62 L431.9,124.21 L430.9,124.80 L430.0,125.39 L429.0,125.99 L428.1,126.58 L427.1,127.18 L426.2,127.77 L425.3,128.37 L424.3,128.97 L423.4,129.57 L422.4,130.17 L421.5,130.77 L420.5,131.38 L419.6,131.98 L418.6,132.59 L417.7,133.19 L416.7,133.79 L415.8,134.40 L414.9,135.00 L413.9,135.61 L413.0,136.21 L412.0,136.81 L411.1,137.41 L410.1,138.01 L409.2,138.61 L408.2,139.20 L407.3,139.79 L406.3,140.38 L405.4,140.97 L404.4,141.56 L403.5,142.14 L402.6,142.72 L401.6,143.29 L400.7,143.87 L399.7,144.44 L398.8,145.02 L397.8,145.59 L396.9,146.16 L395.9,146.73 L395.0,147.30 L394.0,147.87 L393.1,148.45 L392.1,149.02 L391.2,149.59 L390.3,150.17 L389.3,150.75 L388.4,151.33 L387.4,151.91 L386.5,152.49 L385.5,153.08 L384.6,153.67 L383.6,154.26 L382.7,154.85 L381.7,155.44 L380.8,156.03 L379.9,156.63 L378.9,157.21 L378.0,157.80 L377.0,158.39 L376.1,158.97 L375.1,159.54 L374.2,160.11 L373.2,160.68 L372.3,161.24 L371.3,161.80 L370.4,162.35 L369.4,162.89 L368.5,163.42 L367.6,163.94 L366.6,164.46 L365.7,164.96 L364.7,165.46 L363.8,165.94 L362.8,166.41 L361.9,166.87 L360.9,167.32 L360.0,167.75 L359.0,168.17 L358.1,168.58 L357.1,168.97 L356.2,169.35 L355.3,169.71 L354.3,170.06 L353.4,170.40 L352.4,170.73 L351.5,171.05 L350.5,171.36 L349.6,171.65 L348.6,171.93 L347.7,172.21 L346.7,172.47 L345.8,172.73 L344.9,172.98 L343.9,173.21 L343.0,173.44 L342.0,173.67 L341.1,173.88 L340.1,174.09 L339.2,174.29 L338.2,174.48 L337.3,174.67 L336.3,174.86 L335.4,175.03Z" fill="#000" stroke="none"/>
<path d="M342.0,169.97 L343.0,169.74 L343.9,169.50 L344.9,169.26 L345.8,169.01 L346.7,168.75 L347.7,168.49 L348.6,168.21 L349.6,167.93 L350.5,167.63 L351.5,167.33 L352.4,167.02 L353.4,166.69 L354.3,166.35 L355.3,166.01 L356.2,165.65 L357.1,165.28 L358.1,164.89 L359.0,164.50 L360.0,164.09 L360.9,163.67 L361.9,163.24 L362.8,162.79 L363.8,162.34 L364.7,161.87 L365.7,161.40 L366.6,160.91 L367.6,160.42 L368.5,159.91 L369.4,159.40 L370.4,158.88 L371.3,158.35 L372.3,157.82 L373.2,157.28 L374.2,156.74 L375.1,156.19 L376.1,155.64 L377.0,155.08 L378.0,154.52 L378.9,153.95 L379.9,153.38 L380.8,152.81 L381.7,152.24 L382.7,151.67 L383.6,151.10 L384.6,150.52 L385.5,149.95 L386.5,149.38 L387.4,148.81 L388.4,148.24 L389.3,147.67 L390.3,147.10 L391.2,146.53 L392.1,145.97 L393.1,145.40 L394.0,144.84 L395.0,144.27 L395.9,143.71 L396.9,143.14 L397.8,142.57 L398.8,142.00 L399.7,141.43 L400.7,140.86 L401.6,140.29 L402.6,139.72 L403.5,139.14 L404.4,138.56 L405.4,137.98 L406.3,137.40 L407.3,136.81 L408.2,136.22 L409.2,135.63 L410.1,135.04 L411.1,134.45 L412.0,133.85 L413.0,133.26 L413.9,132.66 L414.9,132.07 L415.8,131.47 L416.7,130.87 L417.7,130.28 L418.6,129.68 L419.6,129.08 L420.5,128.49 L421.5,127.90 L422.4,127.30 L423.4,126.71 L424.3,126.12" fill="none" stroke="#1414ff" stroke-width="0.9"/>
<path d="M345.8,172.18 L346.7,171.92 L347.7,171.66 L348.6,171.38 L349.6,171.10 L350.5,170.81 L351.5,170.50 L352.4,170.18 L353.4,169.85 L354.3,169.51 L355.3,169.16 L356.2,168.80 L357.1,168.42 L358.1,168.03 L359.0,167.62 L360.0,167.20 L360.9,166.77 L361.9,166.32 L362.8,165.86 L363.8,165.39 L364.7,164.91 L365.7,164.41 L366.6,163.91 L367.6,163.39 L368.5,162.87 L369.4,162.34 L370.4,161.80 L371.3,161.25 L372.3,160.69 L373.2,160.13 L374.2,159.56 L375.1,158.99 L376.1,158.42 L377.0,157.84 L378.0,157.25 L378.9,156.66 L379.9,156.08 L380.8,155.48 L381.7,154.89 L382.7,154.30 L383.6,153.71 L384.6,153.12 L385.5,152.53 L386.5,151.94 L387.4,151.36 L388.4,150.78 L389.3,150.20 L390.3,149.62 L391.2,149.04 L392.1,148.47 L393.1,147.90 L394.0,147.32 L395.0,146.75 L395.9,146.18 L396.9,145.61 L397.8,145.04 L398.8,144.47 L399.7,143.89" fill="none" stroke="#1414ff" stroke-width="0.6" opacity="0.8"/>
<rect x="298.1" y="18.9" width="245.79999999999995" height="199.0" fill="none" stroke="#000" stroke-width="2"/>
<path d="M294.3,18.90H298.1 M540.1,18.90H543.9" stroke="#000" stroke-width="1.5"/>
<path d="M295.70000000000005,32.81H298.1 M541.5,32.81H543.9" stroke="#000" stroke-width="0.9"/>
<path d="M295.70000000000005,29.31H298.1 M541.5,29.31H543.9" stroke="#000" stroke-width="0.9"/>
<path d="M295.70000000000005,26.82H298.1 M541.5,26.82H543.9" stroke="#000" stroke-width="0.9"/>
<path d="M295.70000000000005,24.89H298.1 M541.5,24.89H543.9" stroke="#000" stroke-width="0.9"/>
<path d="M295.70000000000005,23.31H298.1 M541.5,23.31H543.9" stroke="#000" stroke-width="0.9"/>
<path d="M295.70000000000005,21.98H298.1 M541.5,21.98H543.9" stroke="#000" stroke-width="0.9"/>
<path d="M295.70000000000005,20.83H298.1 M541.5,20.83H543.9" stroke="#000" stroke-width="0.9"/>
<path d="M295.70000000000005,19.81H298.1 M541.5,19.81H543.9" stroke="#000" stroke-width="0.9"/>
<path d="M294.3,38.80H298.1 M540.1,38.80H543.9" stroke="#000" stroke-width="1.5"/>
<path d="M295.70000000000005,52.71H298.1 M541.5,52.71H543.9" stroke="#000" stroke-width="0.9"/>
<path d="M295.70000000000005,49.21H298.1 M541.5,49.21H543.9" stroke="#000" stroke-width="0.9"/>
<path d="M295.70000000000005,46.72H298.1 M541.5,46.72H543.9" stroke="#000" stroke-width="0.9"/>
<path d="M295.70000000000005,44.79H298.1 M541.5,44.79H543.9" stroke="#000" stroke-width="0.9"/>
<path d="M295.70000000000005,43.21H298.1 M541.5,43.21H543.9" stroke="#000" stroke-width="0.9"/>
<path d="M295.70000000000005,41.88H298.1 M541.5,41.88H543.9" stroke="#000" stroke-width="0.9"/>
<path d="M295.70000000000005,40.73H298.1 M541.5,40.73H543.9" stroke="#000" stroke-width="0.9"/>
<path d="M295.70000000000005,39.71H298.1 M541.5,39.71H543.9" stroke="#000" stroke-width="0.9"/>
<path d="M294.3,58.70H298.1 M540.1,58.70H543.9" stroke="#000" stroke-width="1.5"/>
<path d="M295.70000000000005,72.61H298.1 M541.5,72.61H543.9" stroke="#000" stroke-width="0.9"/>
<path d="M295.70000000000005,69.11H298.1 M541.5,69.11H543.9" stroke="#000" stroke-width="0.9"/>
<path d="M295.70000000000005,66.62H298.1 M541.5,66.62H543.9" stroke="#000" stroke-width="0.9"/>
<path d="M295.70000000000005,64.69H298.1 M541.5,64.69H543.9" stroke="#000" stroke-width="0.9"/>
<path d="M295.70000000000005,63.11H298.1 M541.5,63.11H543.9" stroke="#000" stroke-width="0.9"/>
<path d="M295.70000000000005,61.78H298.1 M541.5,61.78H543.9" stroke="#000" stroke-width="0.9"/>
<path d="M295.70000000000005,60.63H298.1 M541.5,60.63H543.9" stroke="#000" stroke-width="0.9"/>
<path d="M295.70000000000005,59.61H298.1 M541.5,59.61H543.9" stroke="#000" stroke-width="0.9"/>
<path d="M294.3,78.60H298.1 M540.1,78.60H543.9" stroke="#000" stroke-width="1.5"/>
<path d="M295.70000000000005,92.51H298.1 M541.5,92.51H543.9" stroke="#000" stroke-width="0.9"/>
<path d="M295.70000000000005,89.01H298.1 M541.5,89.01H543.9" stroke="#000" stroke-width="0.9"/>
<path d="M295.70000000000005,86.52H298.1 M541.5,86.52H543.9" stroke="#000" stroke-width="0.9"/>
<path d="M295.70000000000005,84.59H298.1 M541.5,84.59H543.9" stroke="#000" stroke-width="0.9"/>
<path d="M295.70000000000005,83.01H298.1 M541.5,83.01H543.9" stroke="#000" stroke-width="0.9"/>
<path d="M295.70000000000005,81.68H298.1 M541.5,81.68H543.9" stroke="#000" stroke-width="0.9"/>
<path d="M295.70000000000005,80.53H298.1 M541.5,80.53H543.9" stroke="#000" stroke-width="0.9"/>
<path d="M295.70000000000005,79.51H298.1 M541.5,79.51H543.9" stroke="#000" stroke-width="0.9"/>
<path d="M294.3,98.50H298.1 M540.1,98.50H543.9" stroke="#000" stroke-width="1.5"/>
<path d="M295.70000000000005,112.41H298.1 M541.5,112.41H543.9" stroke="#000" stroke-width="0.9"/>
<path d="M295.70000000000005,108.91H298.1 M541.5,108.91H543.9" stroke="#000" stroke-width="0.9"/>
<path d="M295.70000000000005,106.42H298.1 M541.5,106.42H543.9" stroke="#000" stroke-width="0.9"/>
<path d="M295.70000000000005,104.49H298.1 M541.5,104.49H543.9" stroke="#000" stroke-width="0.9"/>
<path d="M295.70000000000005,102.91H298.1 M541.5,102.91H543.9" stroke="#000" stroke-width="0.9"/>
<path d="M295.70000000000005,101.58H298.1 M541.5,101.58H543.9" stroke="#000" stroke-width="0.9"/>
<path d="M295.70000000000005,100.43H298.1 M541.5,100.43H543.9" stroke="#000" stroke-width="0.9"/>
<path d="M295.70000000000005,99.41H298.1 M541.5,99.41H543.9" stroke="#000" stroke-width="0.9"/>
<path d="M294.3,118.40H298.1 M540.1,118.40H543.9" stroke="#000" stroke-width="1.5"/>
<path d="M295.70000000000005,132.31H298.1 M541.5,132.31H543.9" stroke="#000" stroke-width="0.9"/>
<path d="M295.70000000000005,128.81H298.1 M541.5,128.81H543.9" stroke="#000" stroke-width="0.9"/>
<path d="M295.70000000000005,126.32H298.1 M541.5,126.32H543.9" stroke="#000" stroke-width="0.9"/>
<path d="M295.70000000000005,124.39H298.1 M541.5,124.39H543.9" stroke="#000" stroke-width="0.9"/>
<path d="M295.70000000000005,122.81H298.1 M541.5,122.81H543.9" stroke="#000" stroke-width="0.9"/>
<path d="M295.70000000000005,121.48H298.1 M541.5,121.48H543.9" stroke="#000" stroke-width="0.9"/>
<path d="M295.70000000000005,120.33H298.1 M541.5,120.33H543.9" stroke="#000" stroke-width="0.9"/>
<path d="M295.70000000000005,119.31H298.1 M541.5,119.31H543.9" stroke="#000" stroke-width="0.9"/>
<path d="M294.3,138.30H298.1 M540.1,138.30H543.9" stroke="#000" stroke-width="1.5"/>
<path d="M295.70000000000005,152.21H298.1 M541.5,152.21H543.9" stroke="#000" stroke-width="0.9"/>
<path d="M295.70000000000005,148.71H298.1 M541.5,148.71H543.9" stroke="#000" stroke-width="0.9"/>
<path d="M295.70000000000005,146.22H298.1 M541.5,146.22H543.9" stroke="#000" stroke-width="0.9"/>
<path d="M295.70000000000005,144.29H298.1 M541.5,144.29H543.9" stroke="#000" stroke-width="0.9"/>
<path d="M295.70000000000005,142.71H298.1 M541.5,142.71H543.9" stroke="#000" stroke-width="0.9"/>
<path d="M295.70000000000005,141.38H298.1 M541.5,141.38H543.9" stroke="#000" stroke-width="0.9"/>
<path d="M295.70000000000005,140.23H298.1 M541.5,140.23H543.9" stroke="#000" stroke-width="0.9"/>
<path d="M295.70000000000005,139.21H298.1 M541.5,139.21H543.9" stroke="#000" stroke-width="0.9"/>
<path d="M294.3,158.20H298.1 M540.1,158.20H543.9" stroke="#000" stroke-width="1.5"/>
<path d="M295.70000000000005,172.11H298.1 M541.5,172.11H543.9" stroke="#000" stroke-width="0.9"/>
<path d="M295.70000000000005,168.61H298.1 M541.5,168.61H543.9" stroke="#000" stroke-width="0.9"/>
<path d="M295.70000000000005,166.12H298.1 M541.5,166.12H543.9" stroke="#000" stroke-width="0.9"/>
<path d="M295.70000000000005,164.19H298.1 M541.5,164.19H543.9" stroke="#000" stroke-width="0.9"/>
<path d="M295.70000000000005,162.61H298.1 M541.5,162.61H543.9" stroke="#000" stroke-width="0.9"/>
<path d="M295.70000000000005,161.28H298.1 M541.5,161.28H543.9" stroke="#000" stroke-width="0.9"/>
<path d="M295.70000000000005,160.13H298.1 M541.5,160.13H543.9" stroke="#000" stroke-width="0.9"/>
<path d="M295.70000000000005,159.11H298.1 M541.5,159.11H543.9" stroke="#000" stroke-width="0.9"/>
<path d="M294.3,178.10H298.1 M540.1,178.10H543.9" stroke="#000" stroke-width="1.5"/>
<path d="M295.70000000000005,192.01H298.1 M541.5,192.01H543.9" stroke="#000" stroke-width="0.9"/>
<path d="M295.70000000000005,188.51H298.1 M541.5,188.51H543.9" stroke="#000" stroke-width="0.9"/>
<path d="M295.70000000000005,186.02H298.1 M541.5,186.02H543.9" stroke="#000" stroke-width="0.9"/>
<path d="M295.70000000000005,184.09H298.1 M541.5,184.09H543.9" stroke="#000" stroke-width="0.9"/>
<path d="M295.70000000000005,182.51H298.1 M541.5,182.51H543.9" stroke="#000" stroke-width="0.9"/>
<path d="M295.70000000000005,181.18H298.1 M541.5,181.18H543.9" stroke="#000" stroke-width="0.9"/>
<path d="M295.70000000000005,180.03H298.1 M541.5,180.03H543.9" stroke="#000" stroke-width="0.9"/>
<path d="M295.70000000000005,179.01H298.1 M541.5,179.01H543.9" stroke="#000" stroke-width="0.9"/>
<path d="M294.3,198.00H298.1 M540.1,198.00H543.9" stroke="#000" stroke-width="1.5"/>
<path d="M295.70000000000005,211.91H298.1 M541.5,211.91H543.9" stroke="#000" stroke-width="0.9"/>
<path d="M295.70000000000005,208.41H298.1 M541.5,208.41H543.9" stroke="#000" stroke-width="0.9"/>
<path d="M295.70000000000005,205.92H298.1 M541.5,205.92H543.9" stroke="#000" stroke-width="0.9"/>
<path d="M295.70000000000005,203.99H298.1 M541.5,203.99H543.9" stroke="#000" stroke-width="0.9"/>
<path d="M295.70000000000005,202.41H298.1 M541.5,202.41H543.9" stroke="#000" stroke-width="0.9"/>
<path d="M295.70000000000005,201.08H298.1 M541.5,201.08H543.9" stroke="#000" stroke-width="0.9"/>
<path d="M295.70000000000005,199.93H298.1 M541.5,199.93H543.9" stroke="#000" stroke-width="0.9"/>
<path d="M295.70000000000005,198.91H298.1 M541.5,198.91H543.9" stroke="#000" stroke-width="0.9"/>
<path d="M294.3,217.90H298.1 M540.1,217.90H543.9" stroke="#000" stroke-width="1.5"/>
<path d="M298.10,217.9v2.4 M298.10,18.9v2.4" stroke="#000" stroke-width="1.5"/>
<path d="M339.07,217.9v4.2 M339.07,18.9v4.2" stroke="#000" stroke-width="1.5"/>
<path d="M380.03,217.9v2.4 M380.03,18.9v2.4" stroke="#000" stroke-width="1.5"/>
<path d="M421.00,217.9v4.2 M421.00,18.9v4.2" stroke="#000" stroke-width="1.5"/>
<path d="M461.97,217.9v2.4 M461.97,18.9v2.4" stroke="#000" stroke-width="1.5"/>
<path d="M502.93,217.9v4.2 M502.93,18.9v4.2" stroke="#000" stroke-width="1.5"/>
<path d="M543.90,217.9v2.4 M543.90,18.9v2.4" stroke="#000" stroke-width="1.5"/>
<text x="291.8" y="22.7" text-anchor="end" class="b">10<tspan dy="-4.4" dx="0.8" font-size="6.5">-7</tspan></text>
<text x="291.8" y="42.5" text-anchor="end" class="b">10<tspan dy="-4.4" dx="0.8" font-size="6.5">-8</tspan></text>
<text x="291.8" y="62.3" text-anchor="end" class="b">10<tspan dy="-4.4" dx="0.8" font-size="6.5">-9</tspan></text>
<text x="291.8" y="82.1" text-anchor="end" class="b">10<tspan dy="-4.4" dx="0.8" font-size="6.5">-10</tspan></text>
<text x="291.8" y="101.9" text-anchor="end" class="b">10<tspan dy="-4.4" dx="0.8" font-size="6.5">-11</tspan></text>
<text x="291.8" y="121.6" text-anchor="end" class="b">10<tspan dy="-4.4" dx="0.8" font-size="6.5">-12</tspan></text>
<text x="291.8" y="141.4" text-anchor="end" class="b">10<tspan dy="-4.4" dx="0.8" font-size="6.5">-13</tspan></text>
<text x="291.8" y="161.2" text-anchor="end" class="b">10<tspan dy="-4.4" dx="0.8" font-size="6.5">-14</tspan></text>
<text x="291.8" y="181.0" text-anchor="end" class="b">10<tspan dy="-4.4" dx="0.8" font-size="6.5">-15</tspan></text>
<text x="291.8" y="200.8" text-anchor="end" class="b">10<tspan dy="-4.4" dx="0.8" font-size="6.5">-16</tspan></text>
<text x="291.8" y="220.6" text-anchor="end" class="b">10<tspan dy="-4.4" dx="0.8" font-size="6.5">-17</tspan></text>
<text x="339.1" y="232.8" text-anchor="middle" class="b">1400</text>
<text x="421.0" y="232.8" text-anchor="middle" class="b">1600</text>
<text x="502.9" y="232.8" text-anchor="middle" class="b">1800</text>
<text class="b" x="389.5" y="252.4" style="font-size:10.3px">E</text><text class="b" x="396.6" y="247.5" style="font-size:6.8px">1/2</text><text class="b" x="411.6" y="252.4" style="font-size:10.4px">(V/cm)</text><text class="b" x="444" y="247.5" style="font-size:6.8px">1/2</text>
<text class="b" transform="translate(265.6,118.2) rotate(-90)" text-anchor="middle">J/E (A/cm·V)</text>
<!-- legend -->
<path d="M305.1,33.8 H329.1" stroke="#1a1aff" stroke-width="1.1"/>
<path d="M305.1,47.6 H329.1" stroke="#111" stroke-width="0.95"/>
<path d="M305.1,60.4 H329.1" stroke="#ff1a1a" stroke-width="1.4" stroke-dasharray="7 7"/>
<text class="r" x="331.4" y="37.4">Area1 = 60 μm × 60 μm</text>
<text class="r" x="331.4" y="51.4">Area2 = 80 μm × 80 μm</text>
<text class="r" x="332" y="64.3">J<tspan dy="2.8" font-size="7" fill="#444">PF</tspan><tspan dy="-2.8"> Model</tspan></text>
<text class="r" x="321" y="110"><tspan font-style="italic" fill="#333" stroke="none">ϕ</tspan><tspan dy="2.6" font-size="6.6" font-style="italic" fill="#222" stroke="none">T</tspan><tspan dy="-2.6"> = 1.52 eV</tspan></text>
<text class="r" x="435.5" y="185.8">Slew rate = 0.02 V/sec</text>
<text class="r" x="435.5" y="199.4">t<tspan dy="2.5" font-size="7" fill="#444">ox</tspan><tspan dy="-2.5"> = 6 nm</tspan></text>
<text class="r" x="435.5" y="213.4">T = 300 K</text>
</svg>
</body></html>
